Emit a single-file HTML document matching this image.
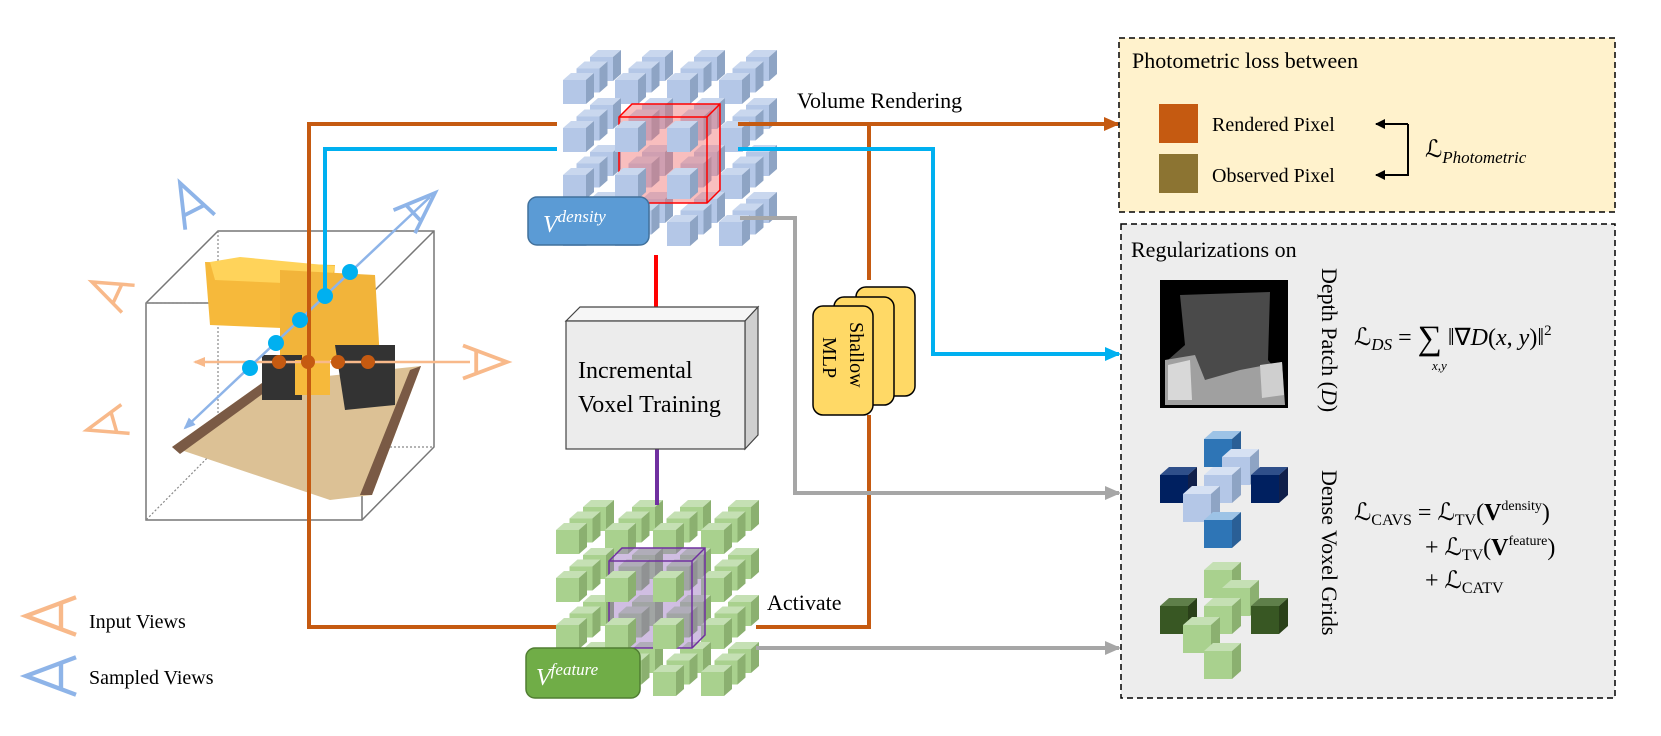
<!DOCTYPE html>
<html><head><meta charset="utf-8"><style>
html,body{margin:0;padding:0;background:#fff;}
svg{display:block;}
text{font-family:"Liberation Serif",serif;fill:#000;}
.it{font-style:italic;}
</style></head><body>
<svg width="1661" height="736" viewBox="0 0 1661 736" xmlns="http://www.w3.org/2000/svg">
<defs>
<marker id="ao" markerWidth="16" markerHeight="14" refX="14" refY="7" orient="auto" markerUnits="userSpaceOnUse"><path d="M0,0 L16,7 L0,14 z" fill="#c55a11"/></marker>
<marker id="ab" markerWidth="16" markerHeight="14" refX="14" refY="7" orient="auto" markerUnits="userSpaceOnUse"><path d="M0,0 L16,7 L0,14 z" fill="#00b0f0"/></marker>
<marker id="ag" markerWidth="16" markerHeight="14" refX="14" refY="7" orient="auto" markerUnits="userSpaceOnUse"><path d="M0,0 L16,7 L0,14 z" fill="#a6a6a6"/></marker>
<marker id="ak" markerWidth="10" markerHeight="10" refX="9" refY="5" orient="auto" markerUnits="userSpaceOnUse"><path d="M0,0 L10,5 L0,10 z" fill="#000"/></marker>
<marker id="apo" markerWidth="12" markerHeight="10" refX="10" refY="5" orient="auto" markerUnits="userSpaceOnUse"><path d="M0,0 L12,5 L0,10 z" fill="#f8b98a"/></marker>
<marker id="apb" markerWidth="12" markerHeight="10" refX="10" refY="5" orient="auto" markerUnits="userSpaceOnUse"><path d="M0,0 L12,5 L0,10 z" fill="#8eb4e8"/></marker>
<path id="cam" d="M-15,40 L0,0 L15,40 M-10,28 L10,28"/>
<g id="cb"><polygon points="0,0 8,-7 31,-7 23,0" fill="#c9d7ee"/><polygon points="23,0 31,-7 31,17 23,24" fill="#8ea4c4"/><rect x="0" y="0" width="23" height="24" fill="#b4c7e7"/></g>
<g id="sb"><use href="#cb" x="27" y="-23"/><use href="#cb" x="13.5" y="-11.5"/><use href="#cb" x="0" y="0"/></g>
<g id="cg"><polygon points="0,0 8,-7 31,-7 23,0" fill="#c5e0b4"/><polygon points="23,0 31,-7 31,17 23,24" fill="#8bb070"/><rect x="0" y="0" width="23" height="24" fill="#a9d18e"/></g>
<g id="sg"><use href="#cg" x="27" y="-23"/><use href="#cg" x="13.5" y="-11.5"/><use href="#cg" x="0" y="0"/></g>
<g id="bc1"><polygon points="0,0 9,-8 37,-8 28,0" fill="#9dc3e6"/><polygon points="28,0 37,-8 37,20 28,28" fill="#2a5f96"/><rect width="28" height="28" fill="#2e75b6"/></g>
<g id="bc2"><polygon points="0,0 9,-8 37,-8 28,0" fill="#2f4f8a"/><polygon points="28,0 37,-8 37,20 28,28" fill="#101f4a"/><rect width="28" height="28" fill="#002060"/></g>
<g id="bc3"><polygon points="0,0 9,-8 37,-8 28,0" fill="#d6e1f3"/><polygon points="28,0 37,-8 37,20 28,28" fill="#8ea4c4"/><rect width="28" height="28" fill="#b4c7e7"/></g>
<g id="gc1"><polygon points="0,0 9,-8 37,-8 28,0" fill="#c5e0b4"/><polygon points="28,0 37,-8 37,20 28,28" fill="#8bb070"/><rect width="28" height="28" fill="#a9d18e"/></g>
<g id="gc2"><polygon points="0,0 9,-8 37,-8 28,0" fill="#5f7f4a"/><polygon points="28,0 37,-8 37,20 28,28" fill="#2a4019"/><rect width="28" height="28" fill="#385723"/></g>
</defs>

<!-- Left scene box -->
<g fill="none" stroke="#777" stroke-width="1.5">
<polygon points="146,303 218,231 434,231 434,447 362,520 146,520"/>
<line x1="146" y1="303" x2="362" y2="303"/><line x1="362" y1="303" x2="434" y2="231"/><line x1="362" y1="303" x2="362" y2="520"/>
</g>
<g fill="none" stroke="#888" stroke-width="1.2" stroke-dasharray="2,2">
<line x1="218" y1="231" x2="218" y2="447"/><line x1="218" y1="447" x2="434" y2="447"/><line x1="218" y1="447" x2="146" y2="520"/>
<line x1="146" y1="303" x2="218" y2="303"/>
</g>
<!-- loader -->
<polygon points="172,447 262,383 421,366 372,495 330,500" fill="#dcc195"/>
<polygon points="172,447 262,383 268,390 180,454" fill="#7a5a45"/>
<polygon points="421,366 372,495 360,495 410,370" fill="#7a5a45"/>
<polygon points="205,262 335,265 330,330 210,325" fill="#f6b93b"/>
<polygon points="210,262 240,257 335,266 330,285 215,280" fill="#ffd35a"/>
<polygon points="280,270 375,275 380,360 280,360" fill="#f2b43a"/>
<rect x="262" y="355" width="40" height="45" fill="#333"/>
<polygon points="335,345 395,345 395,405 345,410" fill="#333"/>
<rect x="295" y="360" width="35" height="35" fill="#f6b93b"/>
<!-- rays -->
<line x1="470" y1="362" x2="195" y2="362" stroke="#f8b98a" stroke-width="2.5" marker-end="url(#apo)"/>
<line x1="430" y1="197" x2="185" y2="428" stroke="#8eb4e8" stroke-width="2.5" marker-end="url(#apb)"/>
<g fill="none" stroke="#f8b98a" stroke-width="3.5">
<use href="#cam" transform="translate(507,362) rotate(90) scale(1.1,1.1)"/>
<use href="#cam" transform="translate(92,282) rotate(-65)"/>
<use href="#cam" transform="translate(87,430) rotate(-106)"/>
<use href="#cam" transform="translate(26,616) rotate(-90) scale(1.25,1.25)"/>
</g>
<g fill="none" stroke="#8eb4e8" stroke-width="3.5">
<use href="#cam" transform="translate(180,183) rotate(-27) scale(1.1,1.1)"/>
<use href="#cam" transform="translate(435,193) rotate(47) scale(1.05,1.05)"/>
<use href="#cam" transform="translate(26,676) rotate(-90) scale(1.25,1.25)"/>
</g>
<!-- lines left -->
<polyline points="557,124 309,124 309,627 556,627" fill="none" stroke="#c55a11" stroke-width="4"/>
<polyline points="557,149 325,149 325,295" fill="none" stroke="#00b0f0" stroke-width="4"/>
<g fill="#00b0f0"><circle cx="250" cy="368" r="8"/><circle cx="276" cy="343" r="8"/><circle cx="300" cy="320" r="8"/><circle cx="325" cy="296" r="8"/><circle cx="350" cy="272" r="8"/></g>
<g fill="#c55a11"><circle cx="279" cy="362" r="7"/><circle cx="308" cy="362" r="7"/><circle cx="338" cy="362" r="7"/><circle cx="368" cy="362" r="7"/></g>

<!-- density grid -->
<g>
<use href="#sb" x="563" y="80"/><use href="#sb" x="615" y="80"/><use href="#sb" x="667" y="80"/><use href="#sb" x="719" y="80"/>
<use href="#sb" x="563" y="128"/><use href="#sb" x="615" y="128"/><use href="#sb" x="667" y="128"/><use href="#sb" x="719" y="128"/>
<use href="#sb" x="563" y="175"/><use href="#sb" x="615" y="175"/><use href="#sb" x="667" y="175"/><use href="#sb" x="719" y="175"/>
<use href="#sb" x="563" y="222"/><use href="#sb" x="615" y="222"/><use href="#sb" x="667" y="222"/><use href="#sb" x="719" y="222"/>
</g>
<g stroke="#ff0000" stroke-width="1.5" fill="rgba(240,110,110,0.45)">
<polygon points="619,117 632,104 720,104 720,190 707,203 619,203"/>
<line x1="707" y1="117" x2="720" y2="104"/><line x1="619" y1="117" x2="707" y2="117" fill="none"/><line x1="707" y1="117" x2="707" y2="203"/>
</g>
<use href="#cb" x="615" y="128"/><use href="#cb" x="667" y="128"/><use href="#cb" x="615" y="175"/><use href="#cb" x="667" y="175"/>
<rect x="528" y="197" width="121" height="48" rx="9" fill="#5b9bd5" stroke="#41719c" stroke-width="1.5"/>
<text x="543" y="232" font-size="24" class="it" style="fill:#fff">V<tspan font-size="17" dy="-10">density</tspan></text>

<!-- feature grid -->
<g>
<use href="#sg" x="556" y="530"/><use href="#sg" x="605" y="530"/><use href="#sg" x="653" y="530"/><use href="#sg" x="701" y="530"/>
<use href="#sg" x="556" y="578"/><use href="#sg" x="605" y="578"/><use href="#sg" x="653" y="578"/><use href="#sg" x="701" y="578"/>
<use href="#sg" x="556" y="625"/><use href="#sg" x="605" y="625"/><use href="#sg" x="653" y="625"/><use href="#sg" x="701" y="625"/>
<use href="#sg" x="556" y="672"/><use href="#sg" x="605" y="672"/><use href="#sg" x="653" y="672"/><use href="#sg" x="701" y="672"/>
</g>
<g stroke="#7030a0" stroke-width="1.5" fill="rgba(150,110,190,0.45)">
<polygon points="609,561 622,548 705,548 705,635 692,648 609,648"/>
<line x1="692" y1="561" x2="705" y2="548"/><line x1="609" y1="561" x2="692" y2="561"/><line x1="692" y1="561" x2="692" y2="648"/>
</g>
<use href="#cg" x="605" y="578"/><use href="#cg" x="653" y="578"/><use href="#cg" x="605" y="625"/><use href="#cg" x="653" y="625"/>
<rect x="526" y="648" width="114" height="50" rx="9" fill="#70ad47" stroke="#507e32" stroke-width="1.5"/>
<text x="536" y="685" font-size="24" class="it" style="fill:#fff">V<tspan font-size="17" dy="-10">feature</tspan></text>

<!-- IVT -->
<line x1="656" y1="255" x2="656" y2="312" stroke="#ff0000" stroke-width="4"/>
<line x1="657" y1="443" x2="657" y2="505" stroke="#7030a0" stroke-width="4"/>
<polygon points="566,321 580,307 758,307 745,321" fill="#f6f6f6" stroke="#444" stroke-width="1.2"/>
<polygon points="745,321 758,307 758,435 745,449" fill="#cfcfcf" stroke="#444" stroke-width="1.2"/>
<rect x="566" y="321" width="179" height="128" fill="#ececec" stroke="#444" stroke-width="1.2"/>
<text x="578" y="378" font-size="24">Incremental</text>
<text x="578" y="412" font-size="24">Voxel Training</text>

<!-- right-side lines -->
<line x1="738" y1="124" x2="1118" y2="124" stroke="#c55a11" stroke-width="4" marker-end="url(#ao)"/>
<polyline points="869,124 869,280" fill="none" stroke="#c55a11" stroke-width="4"/>
<polyline points="869,415 869,627 756,627" fill="none" stroke="#c55a11" stroke-width="4"/>
<polyline points="738,149 933,149 933,354 1119,354" fill="none" stroke="#00b0f0" stroke-width="4" marker-end="url(#ab)"/>
<polyline points="740,218 795,218 795,493 1119,493" fill="none" stroke="#a6a6a6" stroke-width="4" marker-end="url(#ag)"/>
<line x1="756" y1="648" x2="1119" y2="648" stroke="#a6a6a6" stroke-width="4" marker-end="url(#ag)"/>
<text x="797" y="108" font-size="22">Volume Rendering</text>
<text x="767" y="610" font-size="22">Activate</text>

<!-- MLP -->
<rect x="856" y="287" width="59" height="109" rx="10" fill="#ffd966" stroke="#000" stroke-width="1.5"/>
<rect x="834" y="297" width="60" height="108" rx="10" fill="#ffd966" stroke="#000" stroke-width="1.5"/>
<rect x="813" y="306" width="60" height="109" rx="10" fill="#ffd966" stroke="#000" stroke-width="1.5"/>
<text transform="translate(850,322) rotate(90)" font-size="20">Shallow</text>
<text transform="translate(823,337) rotate(90)" font-size="20">MLP</text>

<!-- photometric box -->
<rect x="1119" y="38" width="496" height="174" fill="#fff2cc" stroke="#000" stroke-width="1.5" stroke-dasharray="6,4"/>
<text x="1132" y="68" font-size="22">Photometric loss between</text>
<rect x="1159" y="104" width="39" height="39" fill="#c55a11"/>
<rect x="1159" y="154" width="39" height="39" fill="#8c7432"/>
<text x="1212" y="131" font-size="20">Rendered Pixel</text>
<text x="1212" y="182" font-size="20">Observed Pixel</text>
<polyline points="1408,124 1408,175 1376,175" fill="none" stroke="#000" stroke-width="2" marker-end="url(#ak)"/>
<line x1="1408" y1="124" x2="1376" y2="124" stroke="#000" stroke-width="2" marker-end="url(#ak)"/>
<text x="1425" y="157" font-size="24">ℒ<tspan font-size="17" class="it" dy="6">Photometric</tspan></text>

<!-- regularization box -->
<rect x="1121" y="224" width="494" height="474" fill="#ededed" stroke="#000" stroke-width="1.5" stroke-dasharray="6,4"/>
<text x="1131" y="257" font-size="22">Regularizations on</text>
<rect x="1160" y="280" width="128" height="128" fill="#000"/>
<path d="M1180,295 L1270,292 L1268,360 L1280,375 L1285,405 L1165,405 L1168,360 L1185,345 Z" fill="#4a4a4a"/>
<path d="M1165,360 L1195,355 L1205,380 L1240,370 L1282,362 L1285,405 L1165,405 Z" fill="#a0a0a0"/>
<path d="M1168,365 L1190,360 L1192,400 L1168,400 Z" fill="#d8d8d8"/>
<path d="M1260,365 L1282,362 L1284,395 L1262,398 Z" fill="#cfcfcf"/>
<text transform="translate(1322,268) rotate(90)" font-size="22">Depth Patch (<tspan class="it">D</tspan>)</text>
<text transform="translate(1322,470) rotate(90)" font-size="22">Dense Voxel Grids</text>
<text x="1354" y="345" font-size="24">ℒ<tspan font-size="17" class="it" dy="5">DS</tspan><tspan dy="-5"> = </tspan><tspan font-size="34" dy="4">∑</tspan><tspan dy="-4"> ‖∇</tspan><tspan class="it">D</tspan>(<tspan class="it">x</tspan>, <tspan class="it">y</tspan>)‖<tspan font-size="15" dy="-10">2</tspan></text>
<text x="1432" y="370" font-size="13" class="it">x,y</text>
<use href="#bc1" x="1204" y="439"/><use href="#bc3" x="1222" y="457"/>
<use href="#bc2" x="1160" y="475"/><use href="#bc2" x="1251" y="475"/><use href="#bc3" x="1204" y="475"/>
<use href="#bc3" x="1183" y="494"/><use href="#bc1" x="1204" y="520"/>
<use href="#gc1" x="1204" y="570"/><use href="#gc1" x="1222" y="588"/>
<use href="#gc2" x="1160" y="606"/><use href="#gc2" x="1251" y="606"/><use href="#gc1" x="1204" y="606"/>
<use href="#gc1" x="1183" y="625"/><use href="#gc1" x="1204" y="651"/>
<text x="1354" y="520" font-size="24">ℒ<tspan font-size="16" dy="5">CAVS</tspan><tspan dy="-5"> = ℒ</tspan><tspan font-size="16" dy="5">TV</tspan><tspan dy="-5">(</tspan><tspan font-weight="bold">V</tspan><tspan font-size="14" dy="-10">density</tspan><tspan dy="10">)</tspan></text>
<text x="1425" y="555" font-size="24">+ ℒ<tspan font-size="16" dy="5">TV</tspan><tspan dy="-5">(</tspan><tspan font-weight="bold">V</tspan><tspan font-size="14" dy="-10">feature</tspan><tspan dy="10">)</tspan></text>
<text x="1425" y="588" font-size="24">+ ℒ<tspan font-size="16" dy="5">CATV</tspan></text>

<!-- legend -->
<text x="89" y="628" font-size="20">Input Views</text>
<text x="89" y="684" font-size="20">Sampled Views</text>
</svg>
</body></html>
